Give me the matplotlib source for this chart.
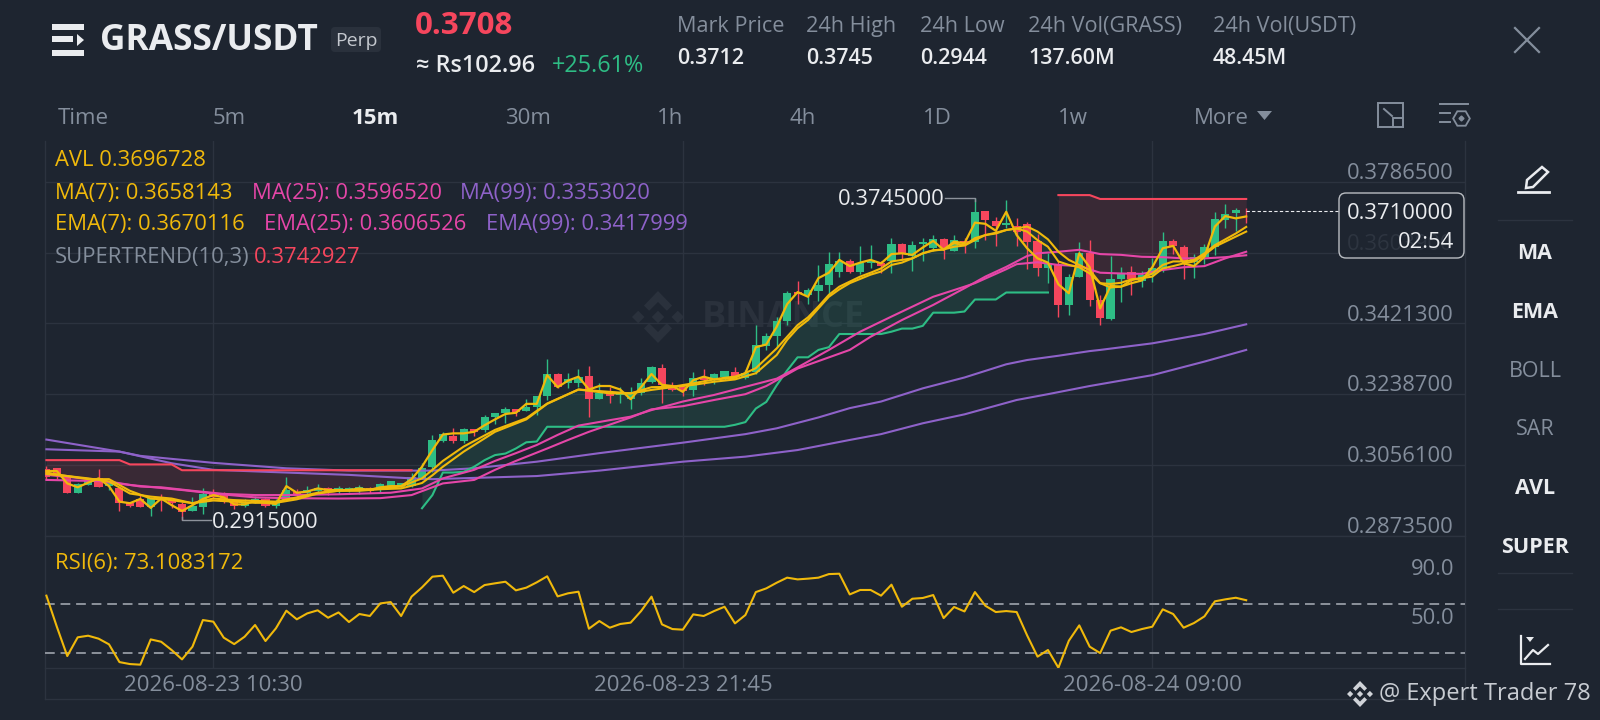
import numpy as np
import matplotlib
matplotlib.use("Agg")
import matplotlib.pyplot as plt
from matplotlib.patches import FancyBboxPatch, Polygon, Rectangle

plt.rcParams["font.family"] = ["Open Sans", "Noto Sans", "DejaVu Sans"]

BG = "#1e2530"
GRID = "#2c333f"
GREY = "#848e9c"
WHITE = "#eaecef"
GREEN = "#2ebd85"
RED = "#f6465d"
YELLOW = "#f0b90b"
PINK = "#e546a8"
PURPLE = "#8e62c9"

# 15m candles
candle_open = [
    .3046, .3048, .3025, .2985, .3005, .3022, .3002, .2996, .2958, .2969, .2947, .2973,
    .2965, .2956, .2939, .2949, .2982, .2979, .2962, .2951, .2962, .2968, .2951, .2966,
    .2988, .2985, .2990, .2996, .2990, .2990, .2990, .2996, .2992, .2999, .3001, .3002,
    .3022, .3052, .3118, .3131, .3118, .3148, .3147, .3181, .3191, .3200, .3196, .3207,
    .3233, .3291, .3267, .3267, .3286, .3226, .3241, .3237, .3226, .3241, .3271, .3307,
    .3263, .3258, .3250, .3284, .3280, .3284, .3297, .3280, .3297, .3364, .3390, .3427,
    .3501, .3494, .3505, .3520, .3555, .3582, .3555, .3576, .3578, .3581, .3625, .3595,
    .3627, .3615, .3640, .3609, .3633, .3630, .3711, .3686, .3674, .3673, .3678, .3634,
    .3564, .3572, .3469, .3542, .3604, .3482, .3433, .3535, .3555, .3531, .3546, .3559,
    .3634, .3619, .3579, .3592, .3617, .3688, .3705, .3712,
]
candle_high = [
    .3054, .3049, .3031, .3009, .3020, .3045, .3014, .2999, .2962, .2982, .2973, .2981,
    .2969, .2962, .2973, .2998, .2994, .2988, .2970, .2968, .2977, .2972, .2970, .3026,
    .2994, .3002, .3008, .2999, .3002, .2999, .3005, .3001, .3009, .3015, .3011, .3037,
    .3062, .3134, .3142, .3151, .3151, .3148, .3185, .3191, .3207, .3202, .3226, .3234,
    .3330, .3293, .3294, .3303, .3311, .3267, .3257, .3258, .3258, .3280, .3311, .3316,
    .3271, .3263, .3297, .3303, .3293, .3299, .3310, .3300, .3417, .3397, .3439, .3505,
    .3531, .3513, .3572, .3605, .3605, .3587, .3620, .3624, .3581, .3641, .3628, .3634,
    .3641, .3649, .3641, .3648, .3641, .3745, .3712, .3695, .3739, .3694, .3682, .3653,
    .3602, .3581, .3548, .3632, .3636, .3495, .3596, .3566, .3568, .3556, .3589, .3658,
    .3638, .3623, .3600, .3625, .3709, .3729, .3720, .3720,
]
candle_low = [
    .3018, .3020, .2985, .2985, .3004, .2999, .2992, .2939, .2949, .2947, .2926, .2939,
    .2945, .2915, .2939, .2929, .2970, .2958, .2942, .2949, .2958, .2947, .2945, .2966,
    .2975, .2979, .2982, .2979, .2983, .2988, .2983, .2985, .2988, .2996, .2996, .2999,
    .3020, .3039, .3117, .3114, .3114, .3131, .3142, .3161, .3164, .3183, .3195, .3185,
    .3224, .3254, .3254, .3258, .3181, .3226, .3217, .3217, .3201, .3237, .3267, .3217,
    .3247, .3233, .3235, .3263, .3265, .3275, .3280, .3277, .3291, .3353, .3361, .3417,
    .3471, .3471, .3479, .3495, .3542, .3552, .3549, .3563, .3552, .3552, .3585, .3556,
    .3581, .3609, .3587, .3608, .3602, .3616, .3636, .3621, .3666, .3622, .3562, .3543,
    .3526, .3437, .3443, .3542, .3467, .3417, .3430, .3477, .3495, .3515, .3529, .3555,
    .3600, .3535, .3539, .3574, .3598, .3668, .3659, .3679,
]
candle_close = [
    .3026, .3031, .2985, .3008, .3014, .3001, .3011, .2958, .2952, .2949, .2972, .2966,
    .2958, .2936, .2951, .2982, .2975, .2962, .2951, .2959, .2968, .2951, .2962, .2992,
    .2982, .2992, .2996, .2990, .2996, .2996, .2999, .2990, .3008, .3014, .3009, .3025,
    .3048, .3121, .3136, .3118, .3149, .3142, .3179, .3191, .3202, .3194, .3205, .3233,
    .3291, .3257, .3277, .3284, .3226, .3241, .3233, .3243, .3245, .3269, .3308, .3263,
    .3251, .3247, .3281, .3275, .3290, .3299, .3284, .3293, .3366, .3389, .3427, .3499,
    .3497, .3507, .3520, .3574, .3582, .3555, .3576, .3585, .3568, .3625, .3600, .3623,
    .3630, .3638, .3615, .3635, .3628, .3709, .3688, .3673, .3679, .3658, .3632, .3565,
    .3576, .3469, .3542, .3604, .3482, .3434, .3535, .3550, .3535, .3546, .3563, .3634,
    .3622, .3579, .3592, .3617, .3691, .3702, .3714, .3710,
]

# AVL, one point per candle
avl = [
    .3041, .3041, .3009, .2999, .3011, .3022, .3002, .2962, .2958, .2969, .2946, .2970,
    .2953, .2938, .2953, .2969, .2979, .2973, .2955, .2955, .2964, .2959, .2956, .3002,
    .2985, .2988, .2996, .2992, .2992, .2992, .2996, .2992, .2999, .3002, .3002, .3020,
    .3052, .3095, .3135, .3138, .3138, .3142, .3159, .3174, .3188, .3191, .3214, .3214,
    .3288, .3257, .3274, .3284, .3251, .3260, .3260, .3251, .3226, .3257, .3291, .3263,
    .3260, .3245, .3275, .3284, .3277, .3281, .3284, .3293, .3360, .3367, .3413, .3471,
    .3502, .3490, .3538, .3552, .3585, .3569, .3578, .3585, .3576, .3600, .3602, .3598,
    .3617, .3634, .3611, .3632, .3628, .3681, .3678, .3660, .3709, .3649, .3615, .3589,
    .3578, .3522, .3499, .3602, .3566, .3460, .3518, .3516, .3525, .3532, .3566, .3615,
    .3621, .3576, .3569, .3593, .3671, .3698, .3692, .3697,
]

ma7_idx = [
    0, 2, 4, 6, 8, 10, 12, 14, 16, 18, 20, 22, 24, 26, 28, 30, 32, 34, 36, 37, 38, 40, 43, 46,
    48, 51, 54, 56, 58, 60, 62, 64, 66, 68, 70, 71, 72, 73, 74, 75, 76, 77, 78, 79, 80, 81, 82,
    83, 84, 85, 86, 87, 88, 89, 90, 91, 92, 93, 94, 95, 96, 97, 98, 99, 100, 101, 102, 103, 104,
    105, 106, 107, 108, 109, 110, 111, 112, 113, 114, 115,
]
ema7 = [
    .3037, .3028, .3022, .3014, .2983, .2975, .2970, .2958, .2970, .2966, .2964, .2962, .2973,
    .2985, .2990, .2992, .2996, .3001, .3022, .3044, .3067, .3104, .3147, .3177, .3215, .3251,
    .3241, .3241, .3257, .3258, .3267, .3277, .3281, .3306, .3357, .3387, .3417, .3437, .3465,
    .3495, .3516, .3529, .3542, .3552, .3563, .3581, .3585, .3589, .3602, .3610, .3612, .3628,
    .3623, .3641, .3649, .3655, .3662, .3666, .3671, .3658, .3638, .3606, .3585, .3572, .3559,
    .3525, .3523, .3526, .3535, .3538, .3550, .3572, .3581, .3581, .3585, .3602, .3623, .3638,
    .3653, .3670,
]
ma7 = [
    .3033, .3028, .3020, .3020, .2990, .2970, .2966, .2958, .2965, .2962, .2959, .2959, .2968,
    .2983, .2990, .2990, .2994, .2996, .3010, .3030, .3052, .3091, .3142, .3174, .3214, .3251,
    .3245, .3241, .3250, .3257, .3263, .3271, .3277, .3293, .3340, .3379, .3409, .3430, .3460,
    .3490, .3509, .3525, .3536, .3547, .3555, .3572, .3578, .3589, .3602, .3609, .3612, .3619,
    .3622, .3636, .3649, .3653, .3662, .3666, .3658, .3636, .3619, .3581, .3572, .3566, .3550,
    .3525, .3514, .3516, .3533, .3538, .3542, .3563, .3569, .3576, .3581, .3598, .3619, .3632,
    .3645, .3658,
]

ema25_idx = [
    0, 5, 9, 11, 14, 17, 20, 23, 28, 33, 36, 38, 41, 43, 45, 47, 49, 51, 54, 56, 58, 61, 64, 67,
    70, 72, 75, 78, 81, 85, 88, 89, 92, 93, 95, 97, 99, 101, 103, 105, 107, 109, 111, 113, 115,
]
ema25 = [
    .3031, .3018, .3001, .2999, .2990, .2982, .2979, .2979, .2981, .2985, .2996, .3022, .3044,
    .3067, .3087, .3108, .3134, .3158, .3172, .3181, .3198, .3220, .3237, .3258, .3279, .3308,
    .3353, .3400, .3439, .3490, .3516, .3525, .3561, .3574, .3579, .3572, .3569, .3552, .3550,
    .3549, .3559, .3566, .3569, .3589, .3606,
]
ma25_idx = [
    0, 5, 8, 13, 16, 20, 23, 28, 32, 35, 37, 38, 41, 43, 45, 48, 50, 52, 56, 58, 61, 64, 67, 69,
    72, 77, 79, 82, 85, 88, 90, 92, 94, 95, 97, 99, 101, 103, 105, 107, 109, 111, 113, 115,
]
ma25 = [
    .3018, .3015, .3005, .2992, .2983, .2973, .2971, .2970, .2971, .2979, .2999, .3009, .3018,
    .3044, .3067, .3099, .3121, .3142, .3179, .3200, .3208, .3224, .3239, .3260, .3305, .3353,
    .3387, .3430, .3469, .3512, .3542, .3567, .3595, .3602, .3606, .3611, .3600, .3598, .3593,
    .3592, .3589, .3589, .3592, .3597,
]

ema99_idx = [0, 7, 9, 16, 23, 29, 37, 41, 47, 53, 61, 67, 70, 74, 77, 80, 84, 88, 92, 94, 97, 100, 101, 106, 111, 115]
ema99 = [
    .3097, .3091, .3080, .3062, .3048, .3042, .3042, .3048, .3065, .3087, .3114, .3136, .3151,
    .3179, .3203, .3220, .3254, .3282, .3316, .3327, .3338, .3350, .3353, .3370, .3394, .3419,
]
ma99_idx = [0, 7, 12, 16, 23, 29, 35, 37, 47, 53, 61, 67, 72, 77, 80, 84, 88, 93, 96, 100, 106, 111, 115]
ma99 = [
    .3122, .3091, .3061, .3044, .3037, .3031, .3022, .3020, .3028, .3042, .3065, .3078, .3095,
    .3121, .3136, .3164, .3187, .3224, .3239, .3260, .3288, .3323, .3353,
]

# supertrend, red above / green below price
super_red_a = [
    .3069, .3069, .3069, .3069, .3069, .3069, .3069, .3069, .3058, .3058, .3058, .3058, .3058,
    .3043, .3043, .3043, .3043, .3043, .3043, .3043, .3043, .3043, .3043, .3043, .3043, .3043,
    .3043, .3043, .3043, .3043, .3043, .3043, .3043, .3043, .3043, .3043,
]
super_green = [
    .2945, .2979, .3037, .3037, .3039, .3052, .3069, .3082, .3086, .3099, .3115, .3117, .3155,
    .3155, .3155, .3155, .3155, .3155, .3155, .3155, .3155, .3155, .3155, .3155, .3155, .3155,
    .3155, .3155, .3155, .3155, .3160, .3167, .3202, .3219, .3262, .3300, .3334, .3334, .3353,
    .3360, .3394, .3394, .3394, .3394, .3394, .3400, .3408, .3408, .3415, .3449, .3449, .3449,
    .3452, .3483, .3483, .3483, .3501, .3501, .3501, .3501, .3501,
]
super_red_b = [
    .3752, .3752, .3752, .3752, .3742, .3742, .3742, .3742, .3742, .3742, .3742, .3742, .3742,
    .3742, .3742, .3742, .3742, .3742, .3742,
]

rsi = [
    76.8, 51.6, 27.8, 43.0, 44.3, 41.9, 37.3, 22.9, 21.3, 20.8, 41.3, 39.4, 32.7, 25.1, 35.4, 57.0,
    55.7, 42.7, 37.5, 43.5, 53.0, 40.0, 50.3, 64.6, 57.6, 62.4, 64.9, 58.9, 63.2, 55.4, 61.9, 60.3,
    70.5, 71.6, 60.3, 76.0, 83.5, 92.2, 93.0, 79.2, 84.6, 79.7, 85.4, 86.8, 88.1, 81.1, 83.3, 87.6,
    92.5, 76.2, 78.7, 80.0, 50.0, 56.2, 50.8, 53.8, 54.9, 64.3, 76.0, 53.5, 49.7, 49.2, 61.6, 60.3,
    64.3, 67.8, 54.3, 61.1, 79.7, 82.7, 87.3, 91.4, 90.0, 90.6, 91.4, 94.3, 94.6, 77.8, 81.4, 81.4,
    76.8, 85.7, 67.8, 74.3, 74.9, 77.3, 58.6, 67.6, 64.0, 79.7, 68.6, 63.5, 64.3, 63.5, 44.6, 27.3,
    32.7, 18.3, 40.2, 52.7, 35.4, 30.2, 48.4, 51.1, 47.3, 49.7, 51.6, 65.7, 61.9, 50.8, 54.6, 60.0,
    72.2, 73.8, 75.1, 73.1,
]

price_ticks = [0.37865, 0.36039, 0.34213, 0.32387, 0.30561, 0.28735]
time_ticks = [16, 61, 106]
time_labels = ["2026-08-23 10:30", "2026-08-23 21:45", "2026-08-24 09:00"]
rsi_ticks = [90.0, 50.0]

header_stats = [
    ("Mark Price", "0.3712", 677),
    ("24h High", "0.3745", 806),
    ("24h Low", "0.2944", 920),
    ("24h Vol(GRASS)", "137.60M", 1028),
    ("24h Vol(USDT)", "48.45M", 1213),
]
periods = [
    ("Time", 83, False), ("5m", 229, False), ("15m", 375, True), ("30m", 528, False),
    ("1h", 670, False), ("4h", 803, False), ("1D", 937, False), ("1w", 1073, False),
]
side_items = [
    ("MA", 251, WHITE), ("EMA", 310, WHITE), ("BOLL", 369, GREY),
    ("SAR", 427, GREY), ("AVL", 486, WHITE), ("SUPER", 545, WHITE),
]

W, H = 1600, 720
TXT = 15.8
fig = plt.figure(figsize=(16, 7.2), dpi=100, facecolor=BG)


def px_axes(left, top, right, bottom, z):
    ax = fig.add_axes([left / W, 1 - bottom / H, (right - left) / W, (bottom - top) / H], zorder=z)
    ax.patch.set_alpha(0)
    return ax


def binance_logo(ax, cx, cy, r, color):
    # four small diamonds plus the two chevrons
    s = r * 0.24
    for dx, dy in [(0, 0), (-r * 0.76, 0), (r * 0.76, 0)]:
        ax.add_patch(Polygon([(cx + dx - s, cy + dy), (cx + dx, cy - s + dy), (cx + dx + s, cy + dy), (cx + dx, cy + s + dy)],
                             color=color, lw=0))
    for sign in (-1, 1):
        pts = [(cx - r * 0.54, cy + sign * r * 0.44), (cx, cy + sign * r), (cx + r * 0.54, cy + sign * r * 0.44),
               (cx + r * 0.34, cy + sign * r * 0.24), (cx, cy + sign * r * 0.58), (cx - r * 0.34, cy + sign * r * 0.24)]
        ax.add_patch(Polygon(pts, color=color, lw=0))


# background layer with watermark and frame
bg = px_axes(0, 0, W, H, 0)
bg.set_xlim(0, W)
bg.set_ylim(H, 0)
bg.axis("off")
binance_logo(bg, 658, 317, 26, "#2a313c")
bg.text(783, 318, "BINANCE", color="#2a313c", fontsize=26, fontweight="bold", ha="center", va="center")
for y in (536, 668, 699):
    bg.plot([45, 1465], [y, y], color=GRID, lw=1)
bg.plot([45, 45], [141, 699], color=GRID, lw=1)
bg.plot([1465, 1465], [141, 699], color=GRID, lw=1)

# price pane
ax = px_axes(45, 141, 1465, 536, 1)
ax.set_xlim((45 - 46.4) / 10.433, (1465 - 46.4) / 10.433)
ax.set_ylim(0.28735, 0.38914)
for side in ax.spines.values():
    side.set_visible(False)
ax.set_xticks(time_ticks)
ax.set_yticks(price_ticks)
ax.grid(True, color=GRID, lw=1)
ax.set_axisbelow(True)
ax.tick_params(length=0, labelbottom=False, labelleft=False)

idx = np.arange(len(candle_open))
ema7_full = np.interp(idx, ma7_idx, ema7)

ax.fill_between(idx[:36], super_red_a, ema7_full[:36], color=RED, alpha=0.13, lw=0)
ax.fill_between(idx[36:97], super_green, ema7_full[36:97], color=GREEN, alpha=0.13, lw=0)
ax.fill_between(idx[97:], super_red_b, ema7_full[97:], color=RED, alpha=0.13, lw=0)

for i, o, h, l, c in zip(idx, candle_open, candle_high, candle_low, candle_close):
    col = GREEN if c >= o else RED
    ax.plot([i, i], [l, h], color=col, lw=1.0, solid_capstyle="butt", zorder=3)
    ax.bar(i, abs(c - o), bottom=min(o, c), width=0.78, color=col, lw=0, zorder=3)

ax.plot(ma99_idx, ma99, color=PURPLE, lw=1.5, zorder=4)
ax.plot(ema99_idx, ema99, color=PURPLE, lw=1.5, zorder=4)
ax.plot(idx[:36], super_red_a, color=RED, lw=1.5, zorder=4)
ax.plot(idx[36:97], super_green, color=GREEN, lw=1.5, zorder=4)
ax.plot(idx[97:], super_red_b, color=RED, lw=1.5, zorder=4)
ax.plot(ma25_idx, ma25, color=PINK, lw=1.5, zorder=5)
ax.plot(ema25_idx, ema25, color=PINK, lw=1.5, zorder=5)
ax.plot(ma7_idx, ma7, color=YELLOW, lw=1.5, zorder=6)
ax.plot(ma7_idx, ema7, color=YELLOW, lw=1.5, zorder=6)
ax.plot(idx, avl, color=YELLOW, lw=1.6, zorder=6)

# high and low callouts
hi_i = int(np.argmax(candle_high))
lo_i = int(np.argmin(candle_low))
ax.plot([hi_i - 2.9, hi_i, hi_i], [candle_high[hi_i], candle_high[hi_i], candle_high[hi_i] - 0.0007], color="#8d929b", lw=1, zorder=7)
ax.plot([lo_i + 2.8, lo_i, lo_i], [candle_low[lo_i], candle_low[lo_i], candle_low[lo_i] + 0.0007], color="#8d929b", lw=1, zorder=7)
ax.annotate(f"{candle_high[hi_i]:.7f}", xy=(hi_i - 2.9, candle_high[hi_i]), xytext=(0, -1.5), textcoords="offset points",
            color=WHITE, fontsize=TXT, ha="right", va="center", zorder=7)
ax.annotate(f"{candle_low[lo_i]:.7f}", xy=(lo_i + 2.9, candle_low[lo_i]), xytext=(0, -2), textcoords="offset points",
            color=WHITE, fontsize=TXT, ha="left", va="center", zorder=7)

# last price guide
ax.plot([idx[-1], (1338 - 46.4) / 10.433], [candle_close[-1], candle_close[-1]], color=WHITE, lw=0.8, ls=(0, (3, 2)), zorder=7)

for v in price_ticks:
    ax.annotate(f"{v:.7f}", xy=(1, v), xycoords=ax.get_yaxis_transform(), xytext=(-8, 6), textcoords="offset points",
                color=GREY, fontsize=TXT, ha="right", va="center", zorder=2)

# rsi pane
ar = px_axes(45, 536, 1465, 668, 1)
ar.set_xlim(ax.get_xlim())
ar.set_ylim(18.1, 125.2)
for side in ar.spines.values():
    side.set_visible(False)
ar.set_xticks(time_ticks)
ar.set_xticklabels(time_labels, color=GREY, fontsize=16)
ar.set_yticks([])
ar.grid(True, axis="x", color=GRID, lw=1)
ar.set_axisbelow(True)
ar.tick_params(length=0, pad=5)
ar.axhline(70, color="#8d929b", lw=1.4, ls=(0, (5, 3)))
ar.axhline(30, color="#8d929b", lw=1.4, ls=(0, (5, 3)))
ar.plot(idx, rsi, color=YELLOW, lw=1.5, zorder=4)
for v in rsi_ticks:
    ar.annotate(f"{v:.1f}", xy=(1, v), xycoords=ar.get_yaxis_transform(), xytext=(-8, 7), textcoords="offset points",
                color=GREY, fontsize=TXT, ha="right", va="center")

# foreground layer, text and icons
fg = px_axes(0, 0, W, H, 3)
fg.set_xlim(0, W)
fg.set_ylim(H, 0)
fg.axis("off")


def label(x, y, s, color=WHITE, size=TXT, weight="normal", ha="left"):
    fg.text(x, y + 2.5, s, color=color, fontsize=size, fontweight=weight, ha=ha, va="center")


# header
for y0 in (24, 35.5, 50):
    w = 21 if y0 == 35.5 else 32
    fg.add_patch(Rectangle((52, y0), w, 6, color=WHITE, lw=0))
fg.add_patch(Polygon([(77, 34), (84, 40), (77, 46)], color=WHITE, lw=0))
label(100, 38, "GRASS/USDT", size=25.4, weight="bold")
fg.add_patch(FancyBboxPatch((331, 27), 50, 25, boxstyle="round,pad=0,rounding_size=4", color="#2a313c", lw=0))
label(356, 39, "Perp", color="#c4c8ce", size=14, ha="center")
label(415, 23, "0.3708", color=RED, size=22.5, weight="bold")
label(416, 64, "≈ Rs102.96", size=16.8, weight="semibold")
label(552, 64, "+25.61%", color=GREEN, size=16.8)
for name, value, x in header_stats:
    label(x, 24, name, color=GREY, size=15.6)
    label(x, 56, value, size=15.4, weight="semibold")
fg.plot([1515, 1539], [28, 52], color=GREY, lw=1.6)
fg.plot([1515, 1539], [52, 28], color=GREY, lw=1.6)

# period tabs
for name, x, active in periods:
    label(x, 116, name, color=WHITE if active else GREY, size=16, weight="bold" if active else "normal", ha="center")
label(1221, 116, "More", color=GREY, size=16, ha="center")
fg.add_patch(Polygon([(1257, 111), (1272, 111), (1264.5, 120)], color=GREY, lw=0))

# tab bar icons
fg.add_patch(Rectangle((1378, 103), 25, 24, fill=False, ec=GREY, lw=1.4))
fg.add_patch(Rectangle((1393, 118), 10, 9, fc=BG, ec=GREY, lw=1.4))
fg.plot([1384, 1392], [109, 116], color=GREY, lw=1.4)
fg.plot([1440, 1468], [104, 104], color=GREY, lw=1.4)
fg.plot([1440, 1450], [113, 113], color=GREY, lw=1.4)
fg.plot([1440, 1450], [122, 122], color=GREY, lw=1.4)
fg.plot([1461], [118], marker="H", ms=12, mfc="none", mec=GREY, mew=1.3)
fg.plot([1461], [118], marker="D", ms=2.5, color=GREY)

# legend lines
label(55, 158, "AVL 0.3696728", color=YELLOW)
label(55, 191, "MA(7): 0.3658143", color=YELLOW)
label(252, 191, "MA(25): 0.3596520", color=PINK)
label(460, 191, "MA(99): 0.3353020", color=PURPLE)
label(55, 222, "EMA(7): 0.3670116", color=YELLOW)
label(264, 222, "EMA(25): 0.3606526", color=PINK)
label(486, 222, "EMA(99): 0.3417999", color=PURPLE)
label(55, 255, "SUPERTREND(10,3)", color=GREY)
label(254, 255, "0.3742927", color=RED)
label(55, 561, "RSI(6): 73.1083172", color=YELLOW)

# last price tag
fg.add_patch(FancyBboxPatch((1339, 193), 125, 65, boxstyle="round,pad=0,rounding_size=7", fc=BG, ec="#d5d8dc", lw=1, alpha=0.85))
label(1454, 211, "0.3710000", ha="right")
label(1454, 240, "02:54", ha="right")

# side bar
fg.plot([1518, 1549], [192, 192], color=WHITE, lw=2)
fg.add_patch(Polygon([(1527, 180), (1542, 167), (1548, 172), (1533, 187), (1526, 188)], fill=False, ec=WHITE, lw=1.8))
for y in (220, 573, 609):
    fg.plot([1498, 1572], [y, y], color=GRID, lw=1)
for name, y, col in side_items:
    label(1535, y, name, color=col, size=15.5, weight="bold" if col == WHITE else "normal", ha="center")
fg.plot([1521, 1521, 1550], [636, 664, 664], color=WHITE, lw=1.6)
fg.plot([1525, 1533, 1538, 1548], [659, 650, 654, 645], color=WHITE, lw=1.6)
fg.add_patch(Polygon([(1526, 637), (1534, 637), (1530, 642)], color=WHITE, lw=0))

# footer watermark
binance_logo(fg, 1360, 694, 13, "#d0d3d8")
label(1379, 692, "@ Expert Trader 78", color="#c8ccd2", size=17)

fig.savefig("out.png", dpi=100, facecolor=BG)
